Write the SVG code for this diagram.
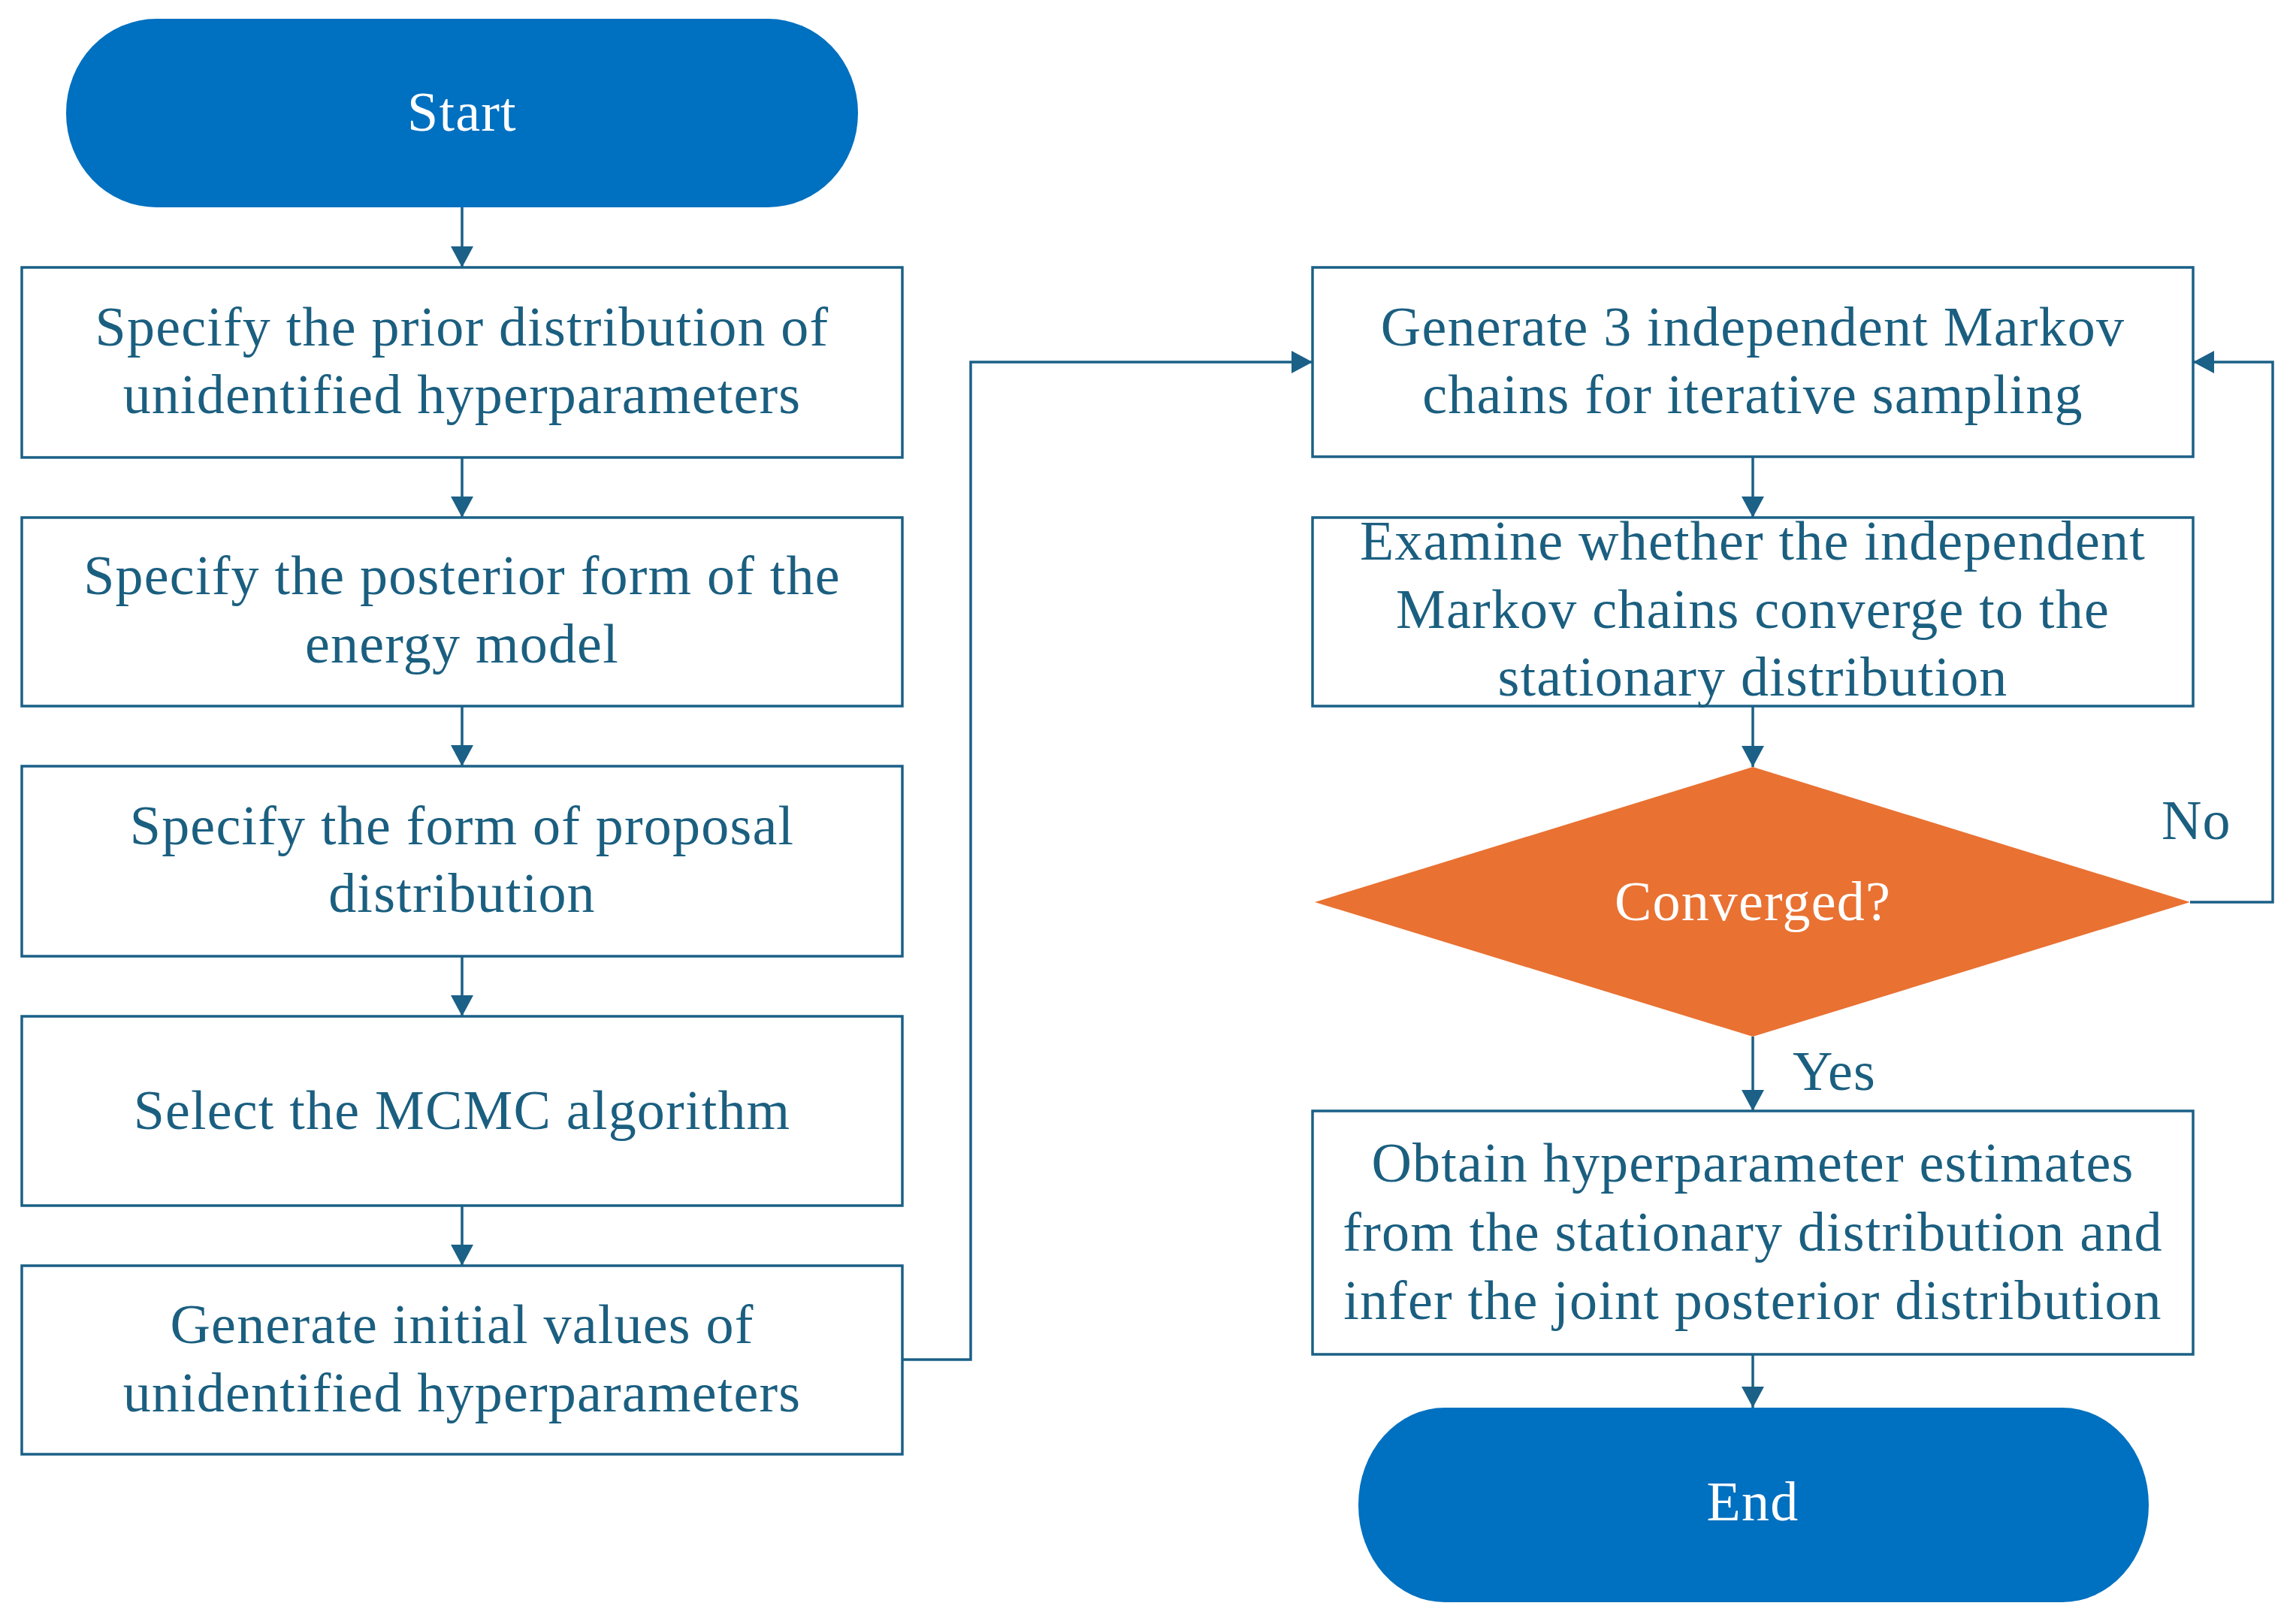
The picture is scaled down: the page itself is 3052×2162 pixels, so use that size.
<svg xmlns="http://www.w3.org/2000/svg" width="3052" height="2162" viewBox="0 0 3052 2162">
<style>
.box{fill:#ffffff;stroke:#1b6087;stroke-width:3.5}
.term{fill:#0070c0}
.dec{fill:#e97132}
.t{font-family:"Liberation Serif","Times New Roman",serif;font-size:74px;letter-spacing:1.2px;fill:#1b5f80;text-anchor:middle}
.w{font-family:"Liberation Serif","Times New Roman",serif;font-size:74px;letter-spacing:1.2px;fill:#ffffff;text-anchor:middle}
.lbl{font-family:"Liberation Serif","Times New Roman",serif;font-size:74px;letter-spacing:1px;fill:#1b5f80}
.c{fill:none;stroke:#1b6087;stroke-width:3.5}
</style>
<defs>
<marker id="arr" markerUnits="userSpaceOnUse" markerWidth="30" markerHeight="30" viewBox="0 0 28 30" refX="28" refY="15" orient="auto">
<path d="M0,0 L28,15 L0,30 Z" fill="#1b6087"/>
</marker>
</defs>
<rect width="3052" height="2162" fill="#ffffff"/>
<g id="start">
<rect class="term" x="88" y="25" width="1054" height="251" rx="120" ry="125"/>
<text class="w" x="615" y="174">Start</text>
</g>
<g id="n1">
<rect class="box" x="29" y="356" width="1172" height="253"/>
<text class="t" x="615" y="460">Specify the prior distribution of</text>
<text class="t" x="615" y="550">unidentified hyperparameters</text>
</g>
<g id="n2">
<rect class="box" x="29" y="689" width="1172" height="251"/>
<text class="t" x="615" y="791">Specify the posterior form of the</text>
<text class="t" x="615" y="882">energy model</text>
</g>
<g id="n3">
<rect class="box" x="29" y="1020" width="1172" height="253"/>
<text class="t" x="615" y="1124">Specify the form of proposal</text>
<text class="t" x="615" y="1214">distribution</text>
</g>
<g id="n4">
<rect class="box" x="29" y="1353" width="1172" height="252"/>
<text class="t" x="615" y="1503">Select the MCMC algorithm</text>
</g>
<g id="n5">
<rect class="box" x="29" y="1685" width="1172" height="251"/>
<text class="t" x="615" y="1788">Generate initial values of</text>
<text class="t" x="615" y="1879">unidentified hyperparameters</text>
</g>
<g id="n6">
<rect class="box" x="1747" y="356" width="1172" height="252"/>
<text class="t" x="2333" y="460">Generate 3 independent Markov</text>
<text class="t" x="2333" y="550">chains for iterative sampling</text>
</g>
<g id="n7">
<rect class="box" x="1747" y="689" width="1172" height="251"/>
<text class="t" x="2333" y="745">Examine whether the independent</text>
<text class="t" x="2333" y="836">Markov chains converge to the</text>
<text class="t" x="2333" y="926">stationary distribution</text>
</g>
<g id="d1">
<polygon class="dec" points="2333,1021 2915,1201 2333,1380 1750,1201"/>
<text class="w" x="2333" y="1225">Converged?</text>
</g>
<g id="n8">
<rect class="box" x="1747" y="1479" width="1172" height="324"/>
<text class="t" x="2333" y="1573">Obtain hyperparameter estimates</text>
<text class="t" x="2333" y="1665">from the stationary distribution and</text>
<text class="t" x="2333" y="1756">infer the joint posterior distribution</text>
</g>
<g id="end">
<rect class="term" x="1808" y="1874" width="1052" height="259" rx="115" ry="129"/>
<text class="w" x="2333" y="2024">End</text>
</g>
<g id="connectors">
<path class="c" marker-end="url(#arr)" d="M615,276 L615,356"/>
<path class="c" marker-end="url(#arr)" d="M615,609 L615,689"/>
<path class="c" marker-end="url(#arr)" d="M615,940 L615,1020"/>
<path class="c" marker-end="url(#arr)" d="M615,1273 L615,1353"/>
<path class="c" marker-end="url(#arr)" d="M615,1605 L615,1685"/>
<path class="c" marker-end="url(#arr)" d="M1201,1810 L1292,1810 L1292,482 L1747,482"/>
<path class="c" marker-end="url(#arr)" d="M2333,608 L2333,689"/>
<path class="c" marker-end="url(#arr)" d="M2333,940 L2333,1021"/>
<path class="c" marker-end="url(#arr)" d="M2333,1380 L2333,1479"/>
<path class="c" marker-end="url(#arr)" d="M2333,1803 L2333,1874"/>
<path class="c" marker-end="url(#arr)" d="M2915,1201 L3025,1201 L3025,482 L2919,482"/>
<text class="lbl" x="2877" y="1117">No</text>
<text class="lbl" x="2386" y="1451">Yes</text>
</g>
</svg>
